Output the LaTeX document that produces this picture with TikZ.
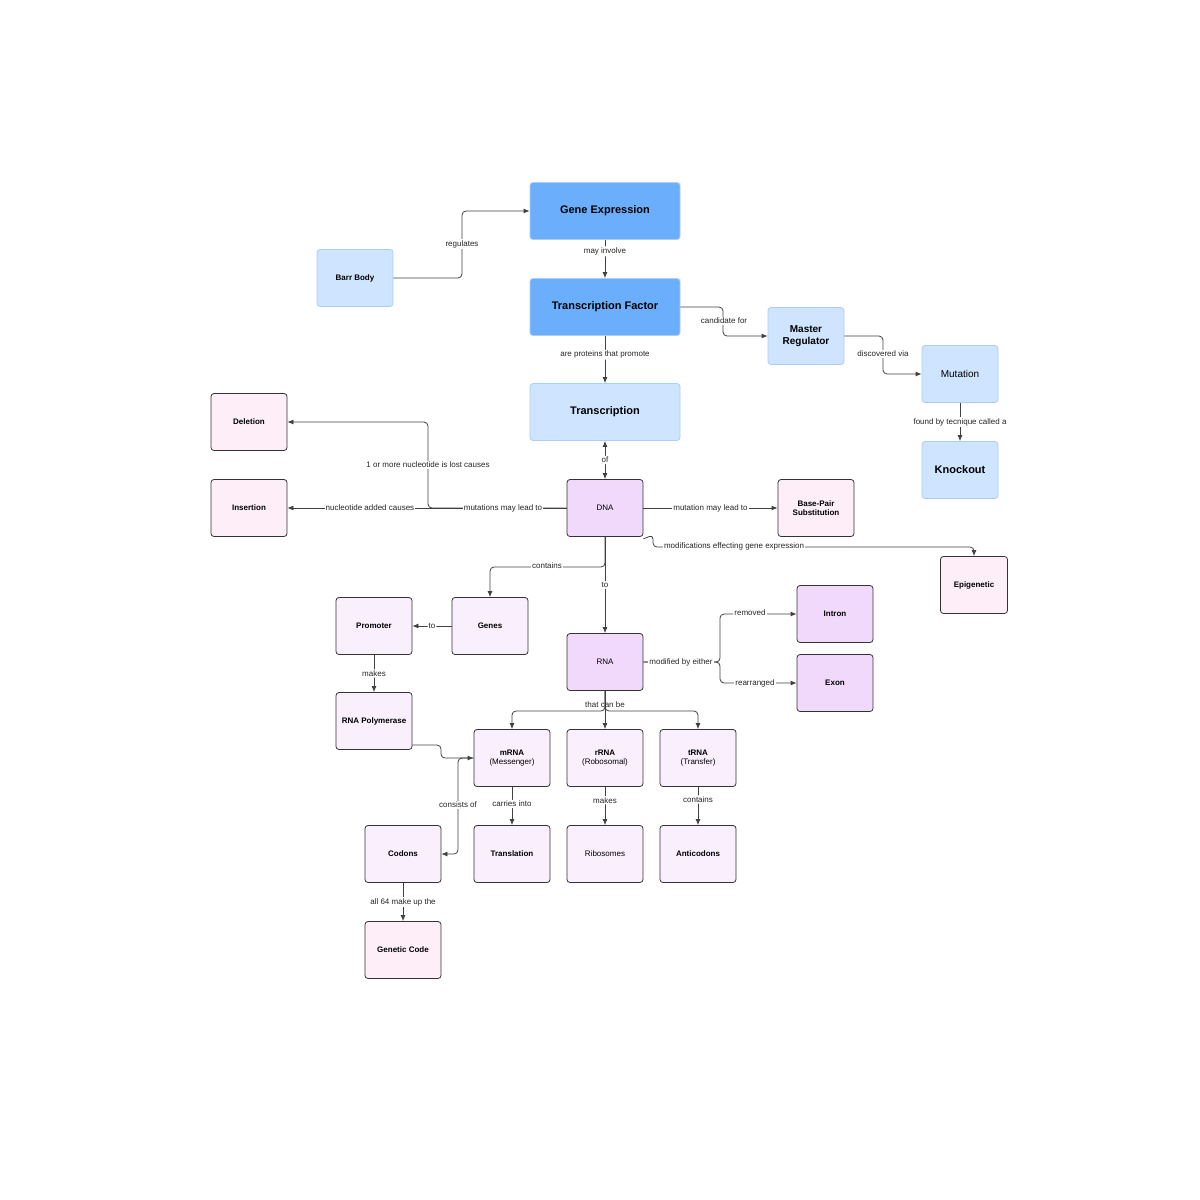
\documentclass[tikz,border=0pt]{standalone}
\usepackage{fontspec}
\setmainfont{Liberation Sans}
\usetikzlibrary{arrows.meta}
\definecolor{dblue}{HTML}{6AAEFC}
\definecolor{lblue}{HTML}{CFE4FF}
\definecolor{bblue}{HTML}{A9CEF7}
\definecolor{pinkA}{HTML}{FDEEF8}
\definecolor{purA}{HTML}{F1D9FC}
\definecolor{purB}{HTML}{FAF0FD}
\begin{document}
\begin{tikzpicture}[x=0.5pt,y=-0.5pt,
 box/.style={draw=#1,rounded corners=1.5pt,line width=0.4pt,align=center,inner sep=0pt},
 bx/.style={box=bblue,minimum width=75pt,minimum height=28.5pt},
 sx/.style={box=bblue,minimum width=38pt,minimum height=28.5pt},
 px/.style={box=black!80,minimum width=38pt,minimum height=28.5pt,font=\fontsize{4}{4.8}\selectfont},
 lab/.style={fill=white,inner sep=0.6pt,font=\fontsize{4}{4.8}\selectfont,text=black!85},
 ar/.style={draw=black!75,line width=0.4pt,-{Latex[length=3pt,width=2.5pt]},rounded corners=2pt},
 ln/.style={draw=black!75,line width=0.4pt,rounded corners=2pt}]
\useasboundingbox (0,0) rectangle (1200,1200);
\node[bx,fill=dblue,font=\bfseries\fontsize{5.5}{6.6}\selectfont] (ge) at (605,211) {Gene Expression};
\node[bx,fill=dblue,font=\bfseries\fontsize{5.5}{6.6}\selectfont] (tf) at (605,307) {Transcription Factor};
\node[bx,fill=lblue,font=\bfseries\fontsize{5.5}{6.6}\selectfont] (tr) at (605,412) {Transcription};
\node[sx,fill=lblue,font=\bfseries\fontsize{4}{4.8}\selectfont] (bb) at (355,278) {Barr Body};
\node[sx,fill=lblue,font=\bfseries\fontsize{5}{6}\selectfont] (mr) at (806,336) {Master\\Regulator};
\node[sx,fill=lblue,font=\fontsize{5}{6}\selectfont] (mu) at (960,374) {Mutation};
\node[sx,fill=lblue,font=\bfseries\fontsize{5.5}{6.6}\selectfont] (ko) at (960,470) {Knockout};
\node[px,fill=pinkA,font=\bfseries\fontsize{4}{4.8}\selectfont] (de) at (249,422) {Deletion};
\node[px,fill=pinkA,font=\bfseries\fontsize{4}{4.8}\selectfont] (in) at (249,508) {Insertion};
\node[px,fill=purA] (dna) at (605,508) {DNA};
\node[px,fill=pinkA,font=\bfseries\fontsize{4}{4.8}\selectfont] (bp) at (816,508) {Base-Pair\\Substitution};
\node[px,fill=pinkA,minimum width=33.5pt,font=\bfseries\fontsize{4}{4.8}\selectfont] (ep) at (974,585) {Epigenetic};
\node[px,fill=purB,font=\bfseries\fontsize{4}{4.8}\selectfont] (gn) at (490,626) {Genes};
\node[px,fill=purB,font=\bfseries\fontsize{4}{4.8}\selectfont] (pr) at (374,626) {Promoter};
\node[px,fill=purA] (rna) at (605,662) {RNA};
\node[px,fill=purA,font=\bfseries\fontsize{4}{4.8}\selectfont] (it) at (835,614) {Intron};
\node[px,fill=purA,font=\bfseries\fontsize{4}{4.8}\selectfont] (ex) at (835,683) {Exon};
\node[px,fill=purB,font=\bfseries\fontsize{4}{4.8}\selectfont] (rp) at (374,721) {RNA Polymerase};
\node[px,fill=purB] (m) at (512,758) {\textbf{mRNA}\\(Messenger)};
\node[px,fill=purB] (r) at (605,758) {\textbf{rRNA}\\(Robosomal)};
\node[px,fill=purB] (t) at (698,758) {\textbf{tRNA}\\(Transfer)};
\node[px,fill=purB,font=\bfseries\fontsize{4}{4.8}\selectfont] (co) at (403,854) {Codons};
\node[px,fill=purB,font=\bfseries\fontsize{4}{4.8}\selectfont] (tl) at (512,854) {Translation};
\node[px,fill=purB] (rb) at (605,854) {Ribosomes};
\node[px,fill=purB,font=\bfseries\fontsize{4}{4.8}\selectfont] (ac) at (698,854) {Anticodons};
\node[px,fill=pinkA,font=\bfseries\fontsize{4}{4.8}\selectfont] (gc) at (403,950) {Genetic Code};
\coordinate (c1) at (462,278);
% edges
\draw[ar] (bb.east) -- (462,278) -- (462,211) -- (ge.west);
\node[lab] at (462,244) {regulates};
\draw[ar] (ge) -- (tf) node[lab,pos=0.3] {may involve};
\draw[ar] (tf.east) -- (723,307) -- (723,336) -- (mr.west);
\node[lab] at (724,321) {candidate for};
\draw[ar] (mr.east) -- (883,336) -- (883,374) -- (mu.west);
\node[lab] at (883,354) {discovered via};
\draw[ar] (mu) -- (ko) node[lab,midway] {found by tecnique called a};
\draw[ar] (tf) -- (tr) node[lab,pos=0.4] {are proteins that promote};
\draw[ar,{Latex[length=3pt,width=2.5pt]}-{Latex[length=3pt,width=2.5pt]}] (dna) -- (tr) node[lab,midway] {of};
\draw[ar] (dna.west) -- (428,508) -- (428,422) -- (de.east);
\node[lab] at (428,465) {1 or more nucleotide is lost causes};
\draw[ar] (dna.west) -- (in.east);
\node[lab] at (503,508) {mutations may lead to};
\node[lab] at (370,508) {nucleotide added causes};
\draw[ar] (dna) -- (bp) node[lab,midway] {mutation may lead to};
\draw[ar] ([yshift=-1]dna.south east) -- (653,535) -- (653,547) -- (974,547) -- (ep.north);
\node[lab] at (734,546) {modifications effecting gene expression};
\draw[ar] (dna.south) -- (605,567) -- (490,567) -- (gn.north);
\node[lab] at (547,566) {contains};
\draw[ar] (dna) -- (rna) node[lab,midway] {to};
\draw[ar] (gn) -- (pr) node[lab,midway] {to};
\draw[ar] (pr) -- (rp) node[lab,midway] {makes};
\draw[ar] (rna.east) -- (720,662) -- (720,614) -- (it.west);
\draw[ar] (rna.east) -- (720,662) -- (720,683) -- (ex.west);
\node[lab] at (681,662) {modified by either};
\node[lab] at (750,613) {removed};
\node[lab] at (755,683) {rearranged};
\draw[ar] (rna.south) -- (605,711) -- (512,711) -- (m.north);
\draw[ar] (rna.south) -- (r.north);
\draw[ar] (rna.south) -- (605,711) -- (698,711) -- (t.north);
\node[lab,fill=none] at (605,705) {that can be};
\draw[ar] (rp.east|-0,745) -- (441,745) -- (441,758) -- (m.west);
\draw[ar] (m.west) -- (458,758) -- (458,854) -- (co.east);
\node[lab] at (458,805) {consists of};
\draw[ar] (m) -- (tl) node[lab,pos=0.45] {carries into};
\draw[ar] (r) -- (rb) node[lab,pos=0.35] {makes};
\draw[ar] (t) -- (ac) node[lab,pos=0.33] {contains};
\draw[ar] (co) -- (gc) node[lab,midway] {all 64 make up the};
\end{tikzpicture}
\end{document}
